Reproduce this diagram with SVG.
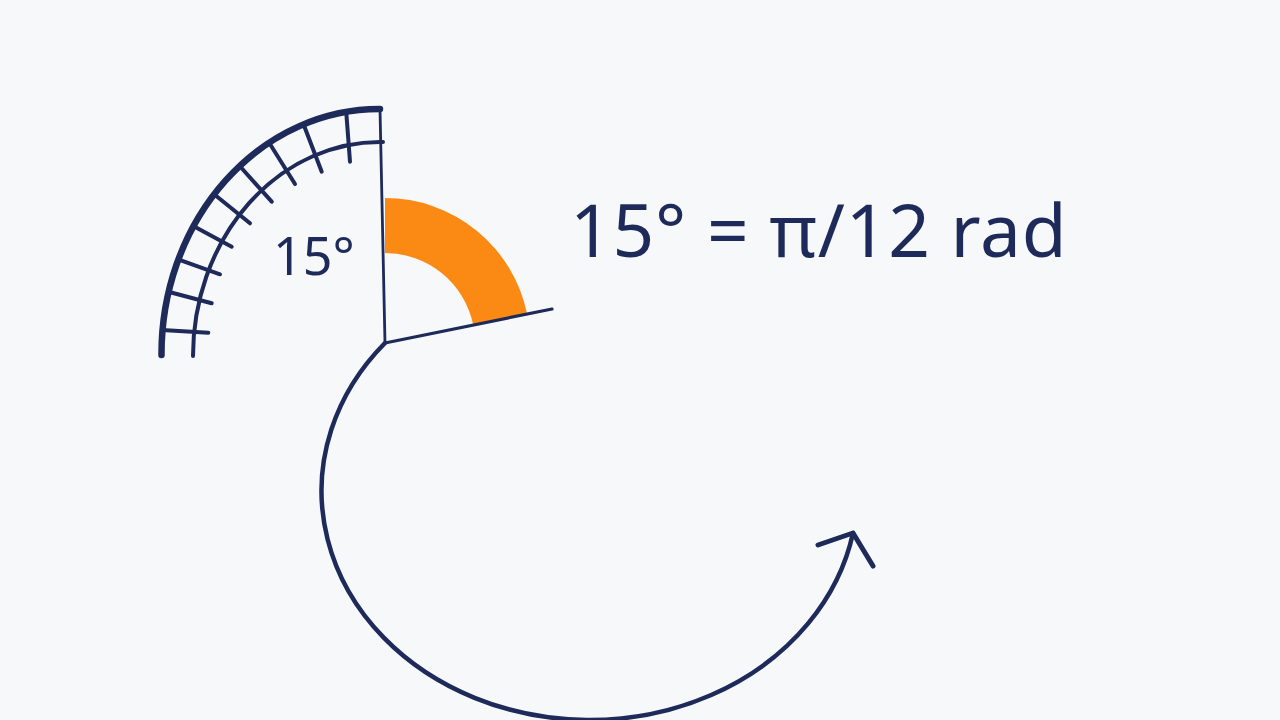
<svg xmlns="http://www.w3.org/2000/svg" width="1280" height="720" viewBox="0 0 1280 720">
  <style>
    .navy { stroke: #1E2A5A; fill: none; stroke-linecap: round; stroke-linejoin: round; }
    .tick { stroke-width: 4; }
    .lbl { font-family: "Noto Sans", "Open Sans", "DejaVu Sans", sans-serif; fill: #1E2A5A; }
  </style>
  <rect width="1280" height="720" fill="#F7F8FA"/>

  <g id="angle-band">
    <path d="M 385 198 A 145 145 0 0 1 527.1 314.1 L 473.2 325.1 A 90 90 0 0 0 385 253 Z" fill="#FB8A14"/>
  </g>

  <g id="protractor">
    <g class="navy tick">
      <line x1="346.3" y1="113" x2="350" y2="161.7"/>
      <line x1="304" y1="125.5" x2="321.7" y2="171.7"/>
      <line x1="269.8" y1="143.7" x2="295" y2="184"/>
      <line x1="239.7" y1="166" x2="271.7" y2="201.7"/>
      <line x1="213.8" y1="194" x2="250" y2="223.3"/>
      <line x1="193.3" y1="226" x2="231.7" y2="246.7"/>
      <line x1="178.1" y1="259.3" x2="220" y2="274.3"/>
      <line x1="168.3" y1="291.7" x2="211.7" y2="303.3"/>
      <line x1="162" y1="330" x2="208.3" y2="332.7"/>
    </g>
    <path class="navy" stroke-width="4" d="M 193 356 A 187 214 0 0 1 383 142"/>
    <path class="navy" stroke-width="6.5" d="M 161.5 355 A 218 245 0 0 1 380 109"/>
  </g>

  <g id="angle-rays" class="navy">
    <line x1="380" y1="109" x2="385" y2="343" stroke-width="2.8"/>
    <line x1="385" y1="343" x2="552" y2="309" stroke-width="3.2"/>
  </g>

  <g id="connectors">
    <path class="navy" stroke-width="4.5" d="M 385 343 A 268 229 0 1 0 853 533"/>
    <path class="navy" stroke-width="5" d="M 818 545 L 853 533 L 873 566"/>
  </g>

  <g id="labels">
    <text class="lbl" x="273" y="275" font-size="52">15°</text>
    <text class="lbl" x="570" y="257" font-size="73" letter-spacing="0.8">15° = π/12 rad</text>
  </g>
</svg>
